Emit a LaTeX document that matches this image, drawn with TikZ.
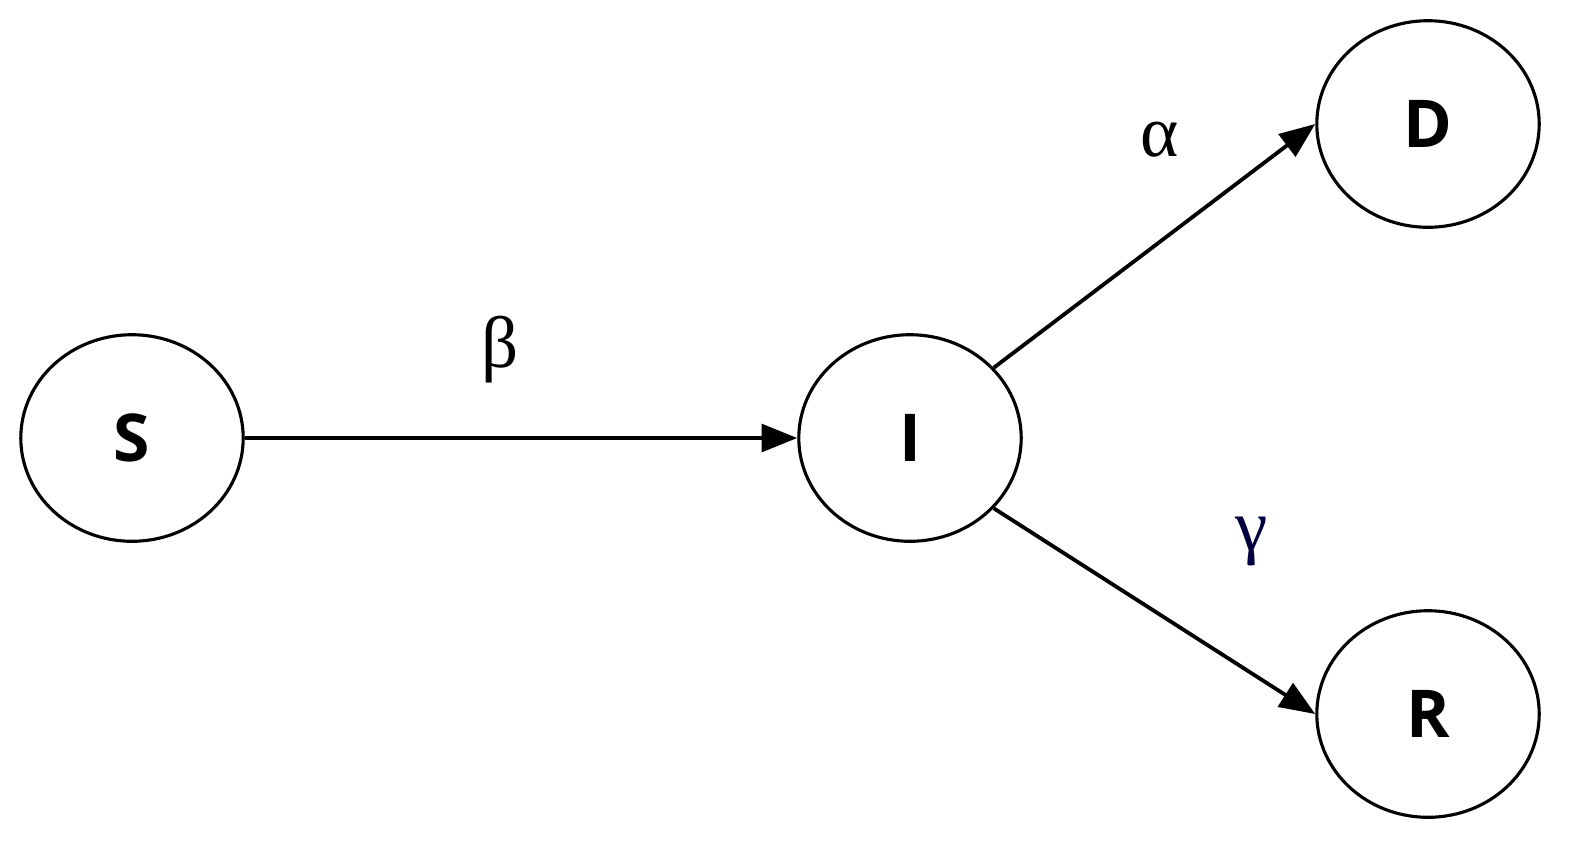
\documentclass[tikz,border=0pt]{standalone}
\usepackage{fontspec}
\setmainfont{Open Sans}
\newfontfamily\grk{Liberation Serif}
\usetikzlibrary{shapes.geometric,arrows.meta}
\begin{document}
\begin{tikzpicture}[x=0.01012cm,y=-0.01012cm,
  st/.style={ellipse,draw,line width=0.9pt,minimum width=2.25cm,minimum height=2.09cm,inner sep=0pt,font=\fontsize{19}{21}\selectfont\bfseries},
  arr/.style={line width=1.1pt,-{Triangle[length=0.36cm,width=0.28cm]}},
  lab/.style={font=\grk\fontsize{21}{23}\selectfont}]
\useasboundingbox (0,0) rectangle (1586,851);
\fill[white] (0,0) rectangle (1586,851);
\node[st] (S) at (132,438) {S};
\node[st] (I) at (910,438) {I};
\node[st] (D) at (1428,124) {D};
\node[st] (R) at (1428,714) {R};
\draw[arr] (S) -- (I);
\draw[arr] (I.40) -- (D.west);
\draw[arr] (I.-40) -- (R.west);
\node[lab] (b) at (500,350) {β};
\node[lab] (a) at (1160,140) {α};
\node[lab,text=black!75!blue] (g) at (1252,542) {γ};
\end{tikzpicture}
\end{document}
